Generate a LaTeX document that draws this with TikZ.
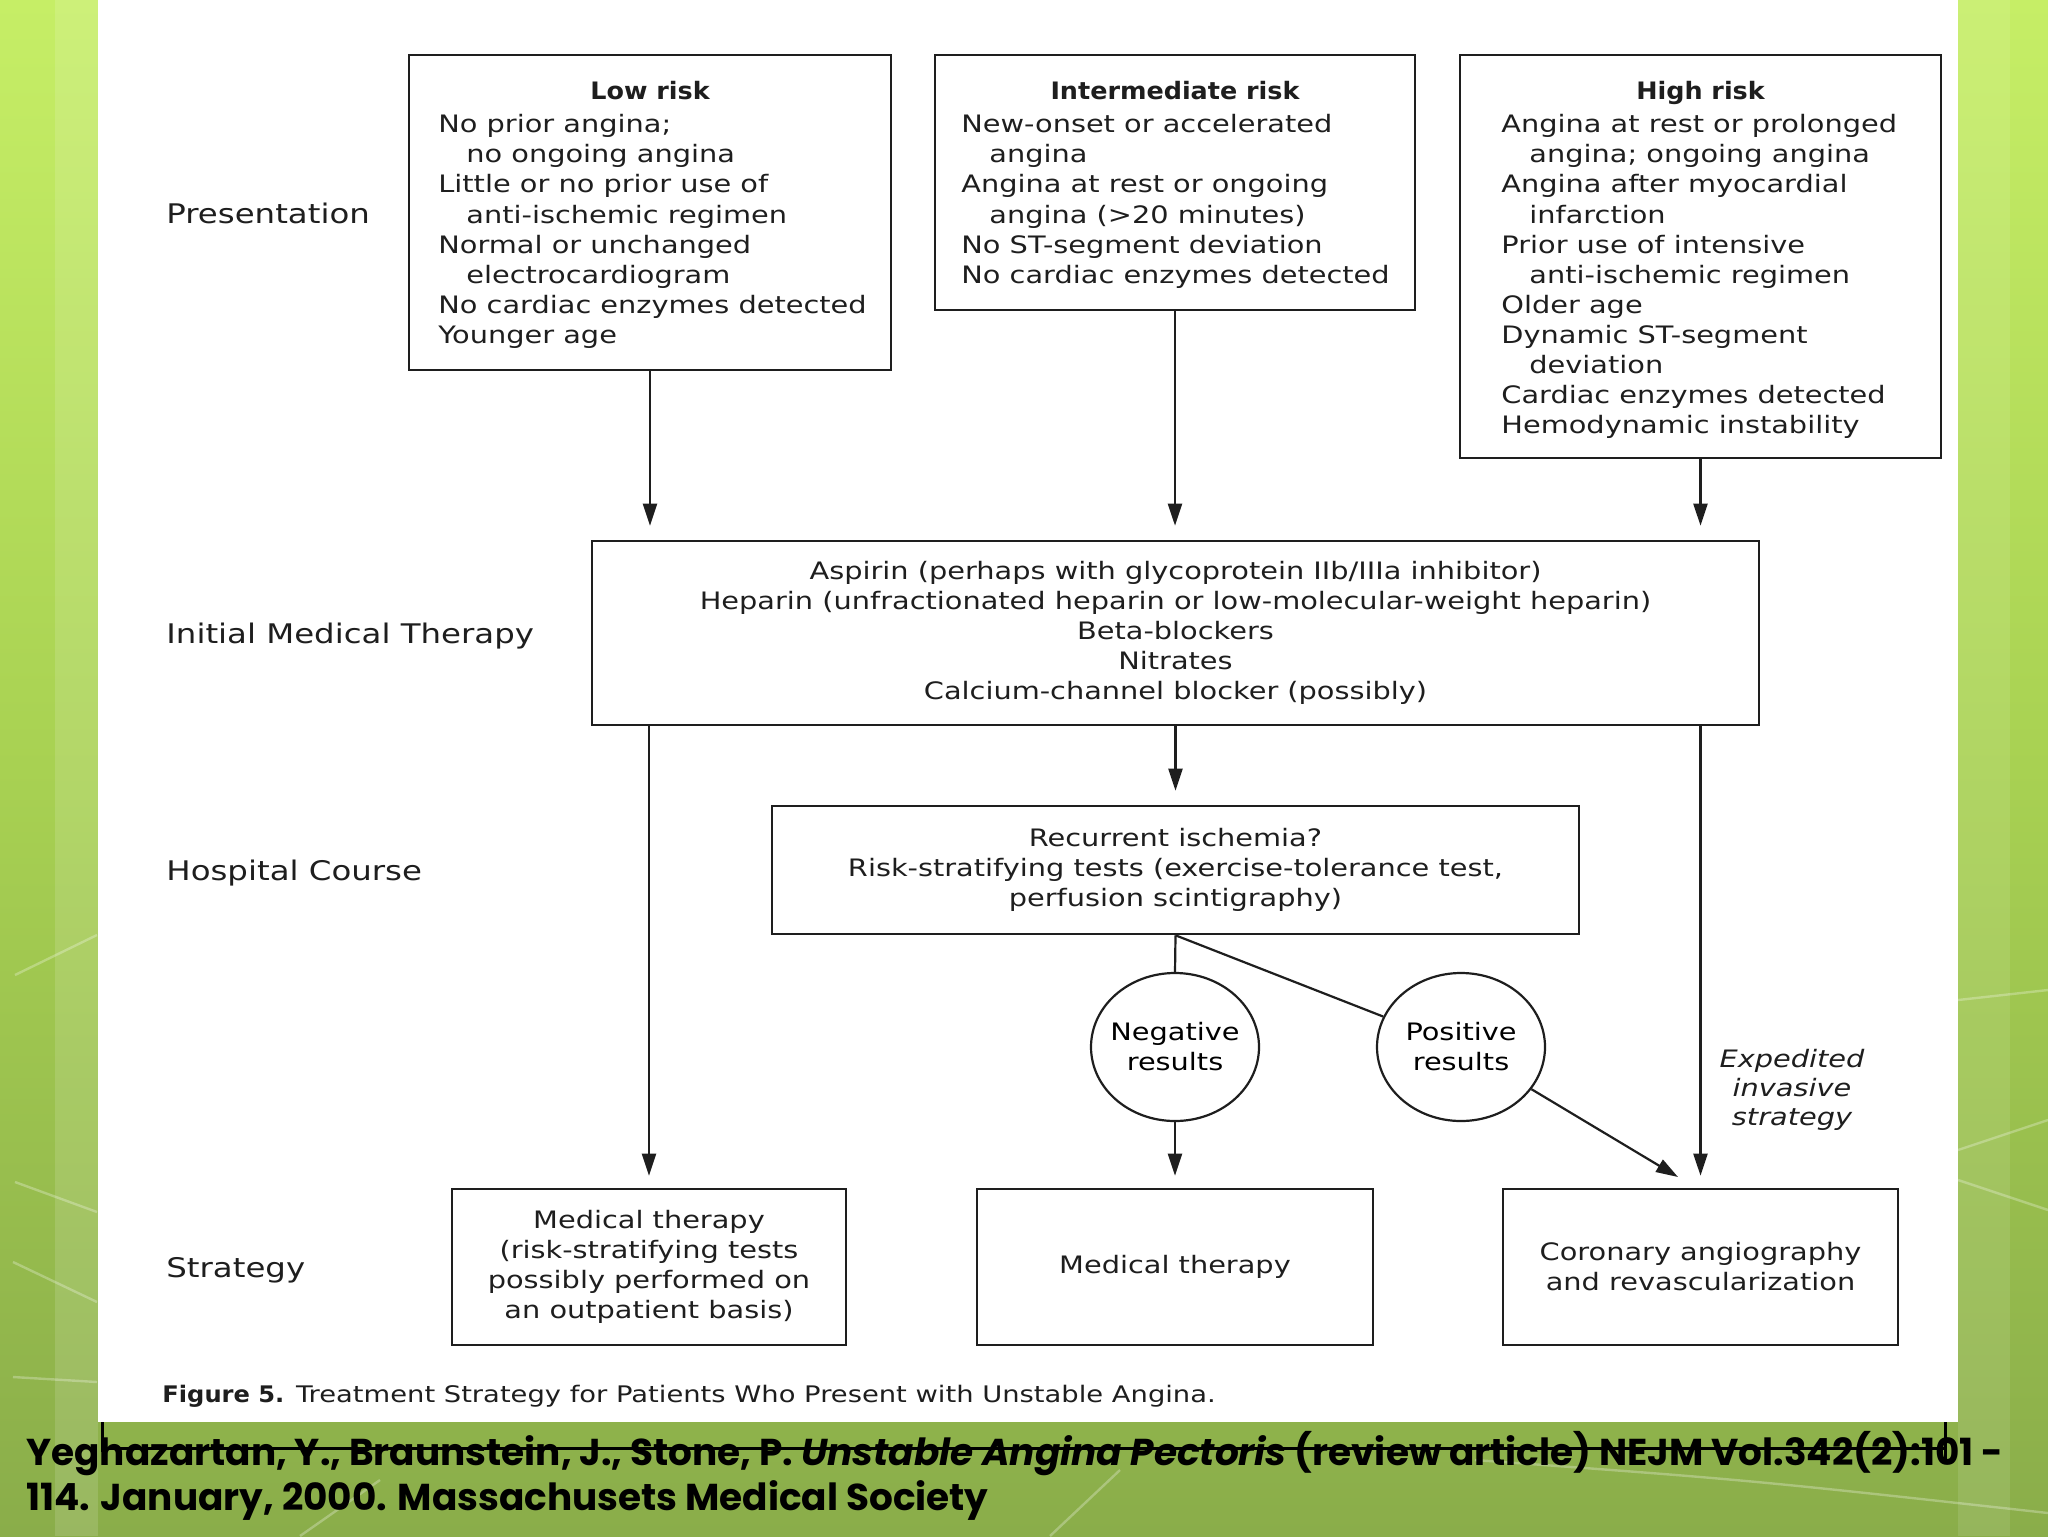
\documentclass[tikz,border=0pt]{standalone}
\usepackage{fontspec}
\usetikzlibrary{arrows.meta,shapes.geometric}
\newfontfamily\dg[FakeStretch=1.2]{DejaVu Sans}
\newfontfamily\dgb[FakeStretch=1.06]{DejaVu Sans Bold}
\newfontfamily\cit{Poppins}
\newcommand\myind{\hspace*{14pt}}
\definecolor{bgtop}{HTML}{C6EE66}
\definecolor{bgmid}{HTML}{A8D152}
\definecolor{bgbot}{HTML}{8AAD4A}
\definecolor{ink}{HTML}{1E1E1E}
\tikzset{
  box/.style={draw=ink, line width=1.3pt, fill=white, rectangle, inner sep=0pt},
  oval/.style={draw=ink, line width=1.1pt, fill=white, ellipse, inner xsep=-3pt, inner ysep=0pt,
    minimum width=84pt, minimum height=74pt, font=\dg\fontsize{12}{15}\selectfont, align=center},
  ctext/.style={font=\dg\fontsize{12}{15}\selectfont, align=center, text=ink},
  ltext/.style={inner sep=0pt, anchor=base west, text=ink},
  rowlabel/.style={inner sep=0pt, anchor=base west, text=ink, font=\dg\fontsize{13.5}{16}\selectfont},
  ttl/.style={inner sep=0pt, anchor=base, text=ink, font=\dgb\fontsize{12}{15}\selectfont},
  arr/.style={draw=ink, line width=1.1pt, -{Triangle[length=11pt,width=7pt]}},
  conn/.style={draw=ink, line width=1.1pt},
  deco/.style={draw=white, line width=1.2pt, opacity=0.28}
}
\begin{document}
\begin{tikzpicture}[x=0.5pt,y=-0.5pt]
\useasboundingbox (0,0) rectangle (2048,1536);
% background
\shade[top color=bgtop, bottom color=bgbot, middle color=bgmid] (0,0) rectangle (2048,1536);
\fill[white, opacity=0.13] (55,0) rectangle (98,1536);
\fill[white, opacity=0.10] (1958,0) rectangle (2010,1536);
\draw[deco] (15,975) -- (97,935);
\draw[deco] (15,1182) -- (97,1212);
\draw[deco] (13,1262) -- (97,1302);
\draw[deco] (13,1377) -- (97,1382);
\draw[deco] (1958,1000) -- (2048,990);
\draw[deco] (1958,1150) -- (2048,1120);
\draw[deco] (1958,1180) -- (2048,1210);
\draw[deco] (1475,1460) .. controls (1750,1480) .. (2048,1513);
\draw[deco] (1050,1536) -- (1120,1470);
\draw[deco] (300,1536) -- (380,1480);
% white panel
\fill[white] (98,0) rectangle (1958,1422);
% frame line artefacts
\draw[black, line width=1.5pt] (102,1422) -- (102,1452);
\draw[black, line width=1.5pt] (1945,1422) -- (1945,1462);

% row labels
\node[rowlabel] (lpres) at (166,223) {Presentation};
\node[rowlabel] (lther) at (166,643) {Initial Medical Therapy};
\node[rowlabel] (lhosp) at (166,880) {Hospital Course};
\node[rowlabel] (lstrat) at (166,1277) {Strategy};

% risk boxes
\node[box, minimum width=241pt, minimum height=157.5pt] (low) at (650,212.5) {};
\node[box, minimum width=240pt, minimum height=127.5pt] (int) at (1175,182.5) {};
\node[box, minimum width=240.5pt, minimum height=201.5pt] (high) at (1700.5,256.5) {};
\node[ttl] (lowt) at (650,99) {Low risk};
\node[ttl] (intt) at (1175,99) {Intermediate risk};
\node[ttl] (hight) at (1700.5,99) {High risk};
\node[ltext] (lowx) at (438,133) {\dg\fontsize{12}{15}\selectfont\begin{tabular}[t]{@{}l@{}}
No prior angina;\\
\myind no ongoing angina\\
Little or no prior use of\\
\myind anti-ischemic regimen\\
Normal or unchanged\\
\myind electrocardiogram\\
No cardiac enzymes detected\\
Younger age
\end{tabular}};
\node[ltext] (intx) at (961,133) {\dg\fontsize{12}{15}\selectfont\begin{tabular}[t]{@{}l@{}}
New-onset or accelerated\\
\myind angina\\
Angina at rest or ongoing\\
\myind angina (>20 minutes)\\
No ST-segment deviation\\
No cardiac enzymes detected
\end{tabular}};
\node[ltext] (highx) at (1501,133) {\dg\fontsize{12}{15}\selectfont\begin{tabular}[t]{@{}l@{}}
Angina at rest or prolonged\\
\myind angina; ongoing angina\\
Angina after myocardial\\
\myind infarction\\
Prior use of intensive\\
\myind anti-ischemic regimen\\
Older age\\
Dynamic ST-segment\\
\myind deviation\\
Cardiac enzymes detected\\
Hemodynamic instability
\end{tabular}};

% therapy
\node[box, ctext, minimum width=583.5pt, minimum height=92pt] (ther) at (1175.5,633) {Aspirin (perhaps with glycoprotein IIb/IIIa inhibitor)\\
Heparin (unfractionated heparin or low-molecular-weight heparin)\\
Beta-blockers\\
Nitrates\\
Calcium-channel blocker (possibly)};

% hospital course
\node[box, ctext, minimum width=403.5pt, minimum height=64pt] (hosp) at (1175.5,870) {Recurrent ischemia?\\
Risk-stratifying tests (exercise-tolerance test,\\
perfusion scintigraphy)};

% results
\node[oval] (neg) at (1175,1047) {Negative\\results};
\node[oval] (pos) at (1461,1047) {Positive\\results};

% strategy boxes
\node[box, ctext, minimum width=197pt, minimum height=78pt] (stratL) at (649,1267) {Medical therapy\\
(risk-stratifying tests\\
possibly performed on\\
an outpatient basis)};
\node[box, ctext, minimum width=198pt, minimum height=78pt] (stratM) at (1175,1267) {Medical therapy};
\node[box, ctext, minimum width=197.5pt, minimum height=78pt] (stratR) at (1700.5,1267) {Coronary angiography\\
and revascularization};

\node[ctext, font=\dg\itshape\fontsize{12}{14.5}\selectfont] (exp) at (1792,1090) {Expedited\\invasive\\strategy};

\coordinate (ptip) at (1678,1177);

% connectors
\draw[arr, shorten >=7pt] (low.south) -- (low.south |- ther.north);
\draw[arr, shorten >=7pt] (int.south) -- (int.south |- ther.north);
\draw[arr, shorten >=7pt] (high.south) -- (high.south |- ther.north);
\draw[arr, shorten >=7pt] (ther.south) -- (hosp.north);
\draw[arr, shorten >=6pt] (ther.south -| stratL.north) -- (stratL.north);
\draw[arr, shorten >=6pt] (ther.south -| stratR.north) -- (stratR.north);
\draw[conn] (hosp.south) -- (neg.north);
\draw[conn] (hosp.south) -- (pos);
\draw[arr, shorten >=6pt] (neg.south) -- (stratM.north);
\draw[arr] (pos) -- (ptip);

% caption
\node[ltext, font=\dg\fontsize{11.4}{13}\selectfont] (cap) at (162,1402) {{\dgb Figure 5.} Treatment Strategy for Patients Who Present with Unstable Angina.};

% citation
\node[ltext, text=black, font=\cit\bfseries\fontsize{18.7}{22}\selectfont] (cit1) at (26,1465) {Yeghazartan, Y., Braunstein, J., Stone, P. \textit{Unstable Angina Pectoris} (review article) NEJM Vol.342(2):101 -};
\node[ltext, text=black, font=\cit\bfseries\fontsize{18.7}{22}\selectfont] (cit2) at (26,1510) {114. January, 2000. Massachusets Medical Society};
\draw[black, line width=1.5pt] (102,1448) -- (1945,1448);
\end{tikzpicture}
\end{document}
